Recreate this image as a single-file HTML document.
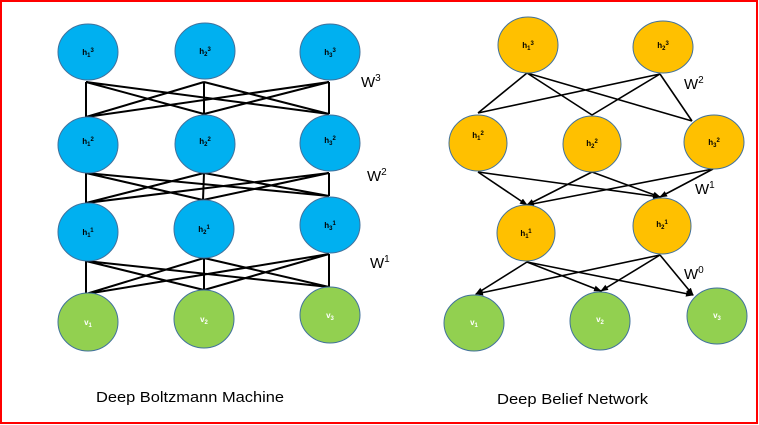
<!DOCTYPE html>
<html><head><meta charset="utf-8"><style>
html,body{margin:0;padding:0;background:#fff}
svg{display:block}
text{font-family:"Liberation Sans",sans-serif}
</style></head><body>
<svg width="759" height="425" viewBox="0 0 759 425" xmlns="http://www.w3.org/2000/svg">
<defs>
<marker id="a" markerWidth="8" markerHeight="8" refX="7" refY="4" orient="auto" markerUnits="userSpaceOnUse">
<path d="M0,1 L8,4 L0,7 Z" fill="#000"/></marker>
</defs>
<rect x="1" y="1" width="756" height="422" fill="#fff" stroke="#f00" stroke-width="2"/>
<g stroke="#000" stroke-width="2" fill="none">
<!-- DBM layer 3-2 -->
<path d="M86,82 L86,117 M204,82 L204,114 M329,82 L329,114
M86,82 L204,114 M86,82 L329,114 M204,82 L86,117 M204,82 L329,114 M329,82 L86,117 M329,82 L204,114"/>
<path d="M86,173 L86,203 M204,173 L203,200 M329,173 L329,196
M86,173 L203,200 M86,173 L329,196 M204,173 L86,203 M204,173 L329,196 M329,173 L86,203 M329,173 L203,200"/>
<path d="M86,261 L86,294 M204,258 L204,290 M329,254 L329,287
M86,261 L204,290 M86,261 L329,287 M204,258 L86,294 M204,258 L329,287 M329,254 L86,294 M329,254 L204,290"/>
</g>
<g stroke="#000" stroke-width="1.6" fill="none">
<path d="M527,73 L478,113 M527,73 L592,115 M527,73 L692,121 M660,74 L478,113 M660,74 L592,115 M660,74 L692,121"/>
</g>
<g stroke="#000" stroke-width="1.6" fill="none" marker-end="url(#a)">
<line x1="478" y1="172" x2="527" y2="205"/><line x1="478" y1="172" x2="660" y2="197"/>
<line x1="592" y1="172" x2="527" y2="205"/><line x1="592" y1="172" x2="660" y2="197"/>
<line x1="713" y1="169" x2="527" y2="205"/><line x1="713" y1="169" x2="660" y2="197"/>
<line x1="527" y1="262" x2="476" y2="294"/><line x1="527" y1="262" x2="601" y2="291"/><line x1="527" y1="262" x2="693" y2="295"/>
<line x1="660" y1="255" x2="476" y2="294"/><line x1="660" y1="255" x2="601" y2="291"/><line x1="660" y1="255" x2="693" y2="295"/>
</g>
<g stroke="#41719C" stroke-width="1">
<g fill="#00B0F0">
<ellipse cx="88" cy="52" rx="30" ry="28"/><ellipse cx="205" cy="51" rx="30" ry="28"/><ellipse cx="330" cy="52" rx="30" ry="28"/>
<ellipse cx="88" cy="145" rx="30" ry="28"/><ellipse cx="205" cy="144" rx="30" ry="29"/><ellipse cx="330" cy="143" rx="30" ry="28"/>
<ellipse cx="88" cy="232" rx="30" ry="29"/><ellipse cx="204" cy="229" rx="30" ry="29"/><ellipse cx="330" cy="225" rx="30" ry="28"/>
</g>
<g fill="#92D050">
<ellipse cx="88" cy="322" rx="30" ry="29"/><ellipse cx="204" cy="319" rx="30" ry="29"/><ellipse cx="330" cy="315" rx="30" ry="28"/>
<ellipse cx="474" cy="323" rx="30" ry="28"/><ellipse cx="600" cy="321" rx="30" ry="29"/><ellipse cx="717" cy="316" rx="30" ry="28"/>
</g>
<g fill="#FFC000">
<ellipse cx="528" cy="45" rx="30" ry="28"/><ellipse cx="663" cy="47" rx="30" ry="26"/>
<ellipse cx="478" cy="143" rx="29" ry="28"/><ellipse cx="592" cy="144" rx="29" ry="28"/><ellipse cx="714" cy="142" rx="30" ry="27"/>
<ellipse cx="526" cy="233" rx="29" ry="28"/><ellipse cx="662" cy="226" rx="29" ry="28"/>
</g>
</g>
<g font-size="8" font-weight="bold" fill="#000" text-anchor="middle">
<text x="88" y="55">h<tspan font-size="6" dy="2">1</tspan><tspan font-size="6" dy="-5">3</tspan></text>
<text x="205" y="54">h<tspan font-size="6" dy="2">2</tspan><tspan font-size="6" dy="-5">3</tspan></text>
<text x="330" y="55">h<tspan font-size="6" dy="2">3</tspan><tspan font-size="6" dy="-5">3</tspan></text>
<text x="88" y="144">h<tspan font-size="6" dy="2">1</tspan><tspan font-size="6" dy="-5">2</tspan></text>
<text x="205" y="144">h<tspan font-size="6" dy="2">2</tspan><tspan font-size="6" dy="-5">2</tspan></text>
<text x="330" y="143">h<tspan font-size="6" dy="2">3</tspan><tspan font-size="6" dy="-5">2</tspan></text>
<text x="88" y="235">h<tspan font-size="6" dy="2">1</tspan><tspan font-size="6" dy="-5">1</tspan></text>
<text x="204" y="232">h<tspan font-size="6" dy="2">2</tspan><tspan font-size="6" dy="-5">1</tspan></text>
<text x="330" y="228">h<tspan font-size="6" dy="2">3</tspan><tspan font-size="6" dy="-5">1</tspan></text>
<text x="528" y="48">h<tspan font-size="6" dy="2">1</tspan><tspan font-size="6" dy="-5">3</tspan></text>
<text x="663" y="48">h<tspan font-size="6" dy="2">2</tspan><tspan font-size="6" dy="-5">3</tspan></text>
<text x="478" y="138">h<tspan font-size="6" dy="2">1</tspan><tspan font-size="6" dy="-5">2</tspan></text>
<text x="592" y="146">h<tspan font-size="6" dy="2">2</tspan><tspan font-size="6" dy="-5">2</tspan></text>
<text x="714" y="145">h<tspan font-size="6" dy="2">3</tspan><tspan font-size="6" dy="-5">2</tspan></text>
<text x="526" y="236">h<tspan font-size="6" dy="2">1</tspan><tspan font-size="6" dy="-5">1</tspan></text>
<text x="662" y="227">h<tspan font-size="6" dy="2">2</tspan><tspan font-size="6" dy="-5">1</tspan></text>
</g>
<g font-size="8" font-weight="bold" fill="#fff" text-anchor="middle">
<text x="88" y="325">v<tspan font-size="6" dy="2">1</tspan></text>
<text x="204" y="322">v<tspan font-size="6" dy="2">2</tspan></text>
<text x="330" y="318">v<tspan font-size="6" dy="2">3</tspan></text>
<text x="474" y="325">v<tspan font-size="6" dy="2">1</tspan></text>
<text x="600" y="322">v<tspan font-size="6" dy="2">2</tspan></text>
<text x="717" y="318">v<tspan font-size="6" dy="2">3</tspan></text>
</g>
<g font-size="15" fill="#000">
<text x="361" y="87">W<tspan font-size="10" dy="-6">3</tspan></text>
<text x="367" y="181">W<tspan font-size="10" dy="-6">2</tspan></text>
<text x="370" y="268">W<tspan font-size="10" dy="-6">1</tspan></text>
<text x="684" y="89">W<tspan font-size="10" dy="-6">2</tspan></text>
<text x="695" y="194">W<tspan font-size="10" dy="-6">1</tspan></text>
<text x="684" y="279">W<tspan font-size="10" dy="-6">0</tspan></text>
<text x="96" y="402" textLength="188" lengthAdjust="spacingAndGlyphs">Deep Boltzmann Machine</text>
<text x="497" y="404" textLength="151" lengthAdjust="spacingAndGlyphs">Deep Belief Network</text>
</g>
</svg>
</body></html>
